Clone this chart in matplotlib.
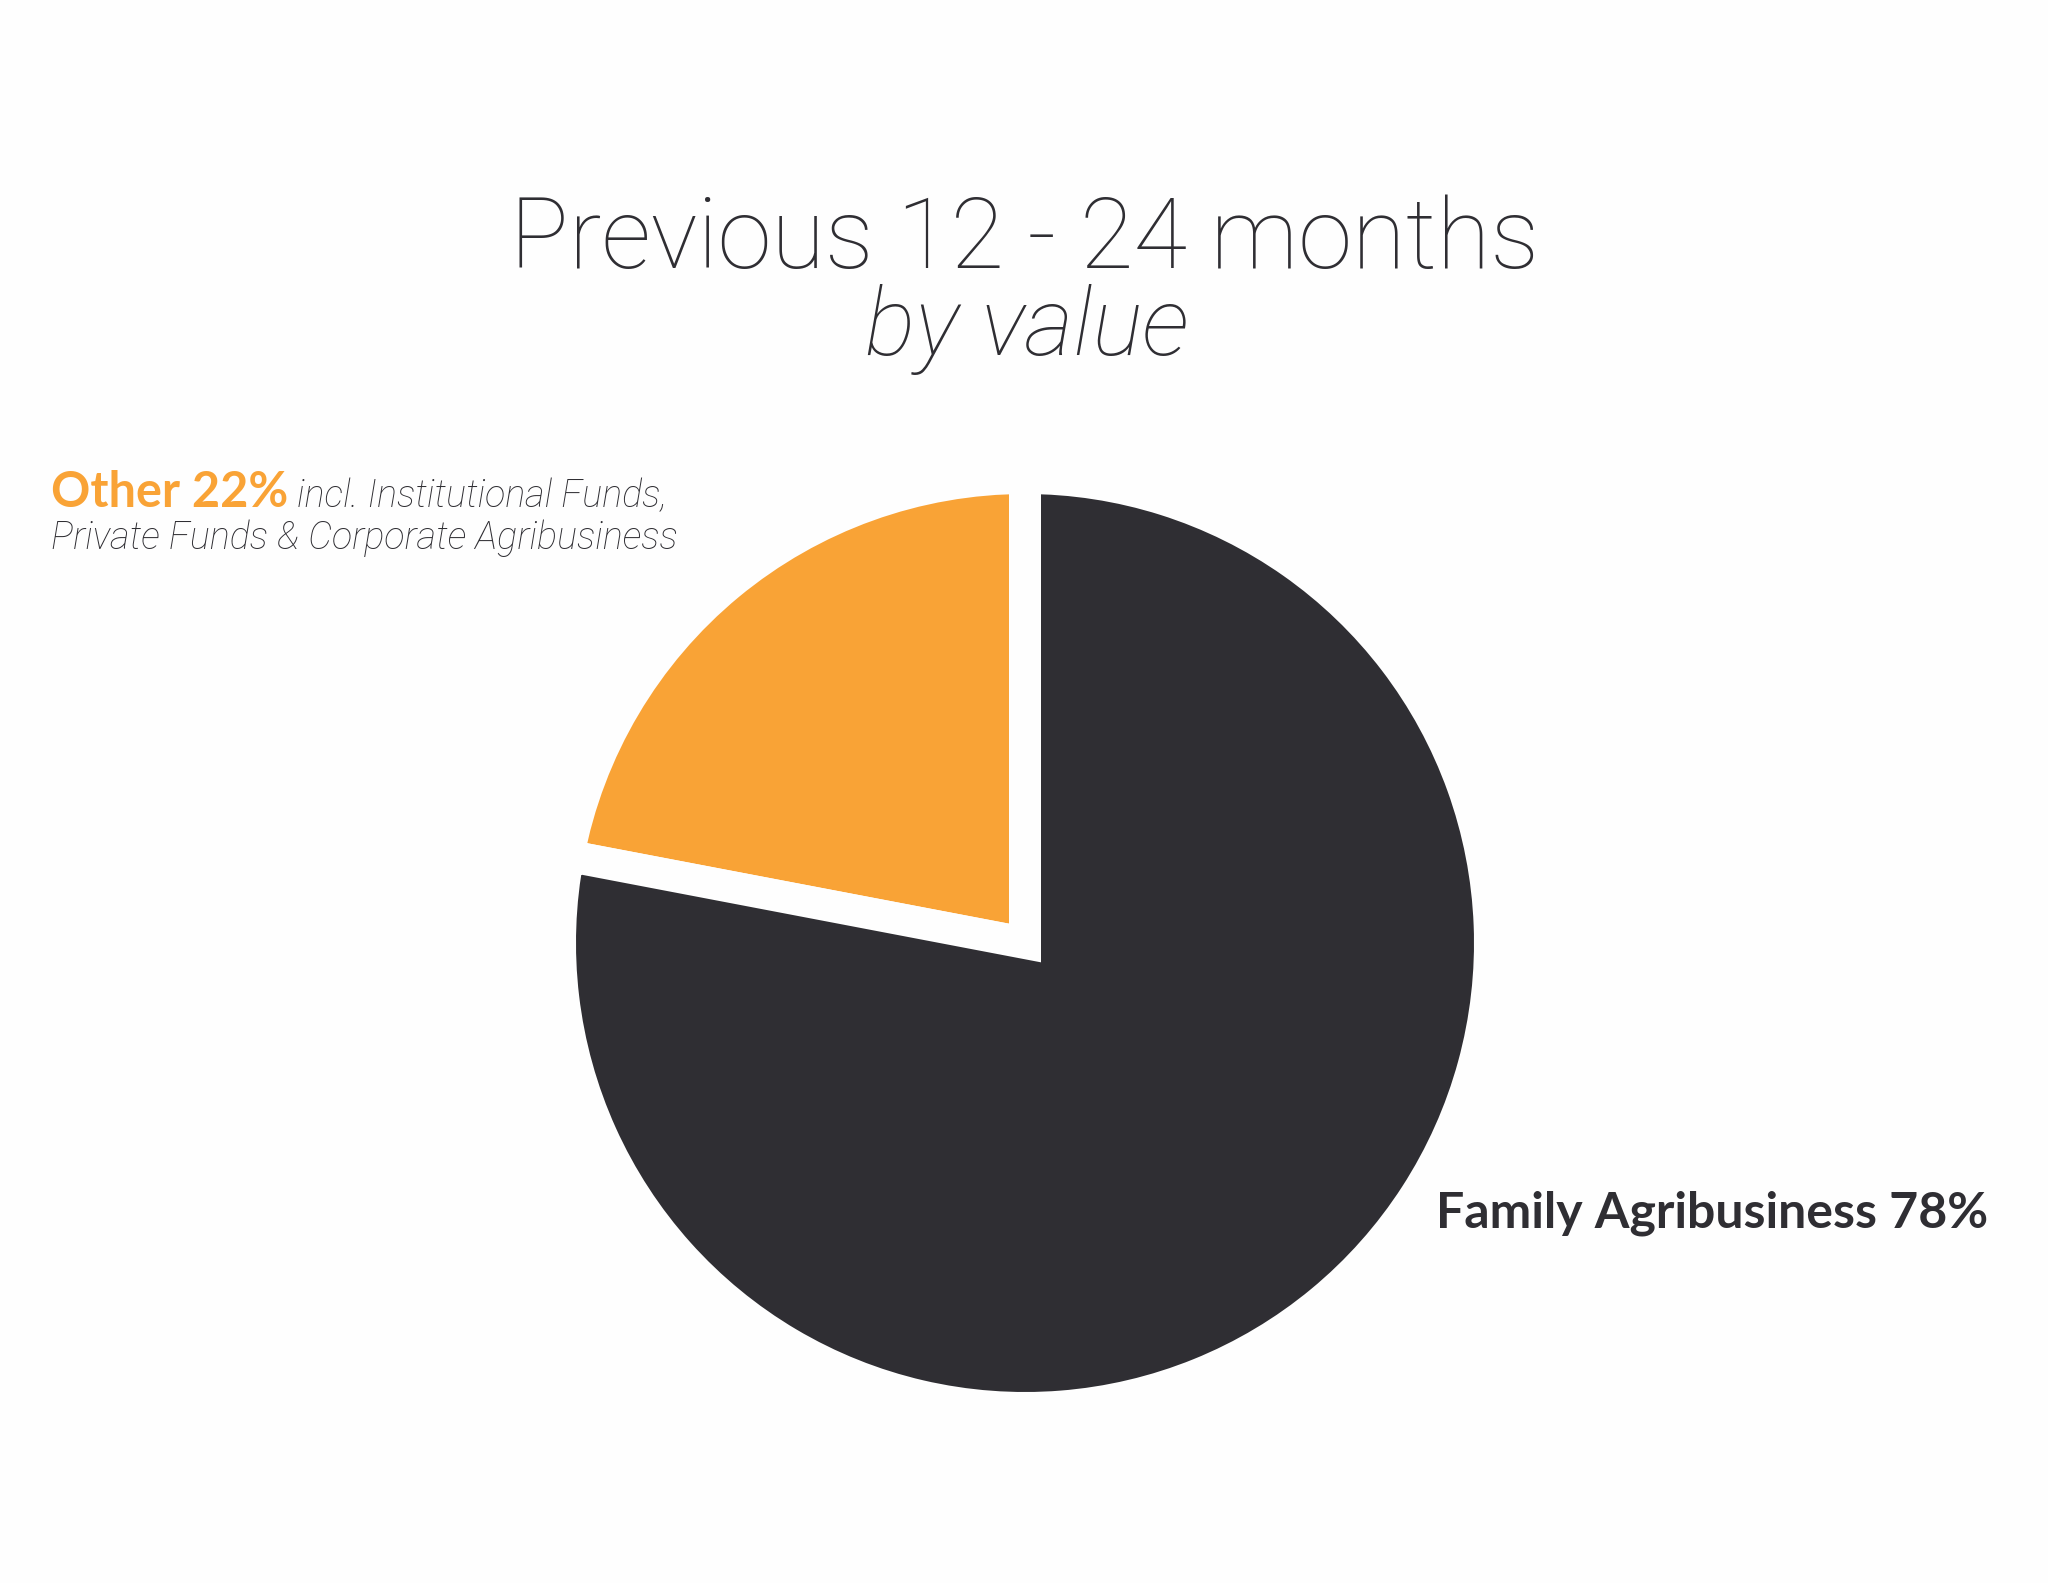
import matplotlib
matplotlib.use("Agg")
import matplotlib.pyplot as plt

# data
labels = ["Other", "Family Agribusiness"]
shares = [22, 78]
colors = ["#f9a336", "#2f2e33"]

W, H = 2048, 1583
bg = "#fefefe"
dark = "#2f2e33"

fig = plt.figure(figsize=(W / 100, H / 100), dpi=100, facecolor=bg)
ax = fig.add_axes([0, 0, 1, 1])
ax.axis("off")

def Y(y):
    # layout measured from the top edge
    return H - y

gap = 32  # gap between slices, px
ax.pie(shares, colors=colors, startangle=90, counterclock=True,
       center=(1025, Y(943)), radius=449 + gap / 2,
       wedgeprops=dict(linewidth=gap * 0.72, edgecolor=bg, joinstyle="miter"))
ax.set_xlim(0, W)
ax.set_ylim(0, H)
ax.set_aspect("equal")

fam = "Lato"
light = "Roboto"
ax.text(1025, Y(268), "Previous 12 - 24 months", ha="center", va="baseline",
        fontsize=70.5, fontweight="light", family=light, color=dark)
ax.text(1027, Y(355), "by value", ha="center", va="baseline",
        fontsize=68, fontweight=200, style="italic", family=light, color=dark)

# Other label, two styles on one line
t1 = ax.text(51, Y(507), f"{labels[0]} {shares[0]}%", ha="left", va="baseline",
             fontsize=35, fontweight="bold", family=fam, color=colors[0])
ax.text(51, Y(549), "Private Funds & Corporate Agribusiness", ha="left", va="baseline",
        fontsize=27.2, fontweight="light", style="italic", family=light, color=dark)
fig.canvas.draw()
x_end = ax.transData.inverted().transform(t1.get_window_extent().p1)[0]
ax.text(x_end, Y(507), " incl. Institutional Funds,", ha="left", va="baseline",
        fontsize=27.2, fontweight="light", style="italic", family=light, color=dark)

ax.text(1436, Y(1228), f"{labels[1]} {shares[1]}%", ha="left", va="baseline",
        fontsize=36, fontweight="bold", family=fam, color=dark)

fig.savefig("out.png", dpi=100, facecolor=bg)
